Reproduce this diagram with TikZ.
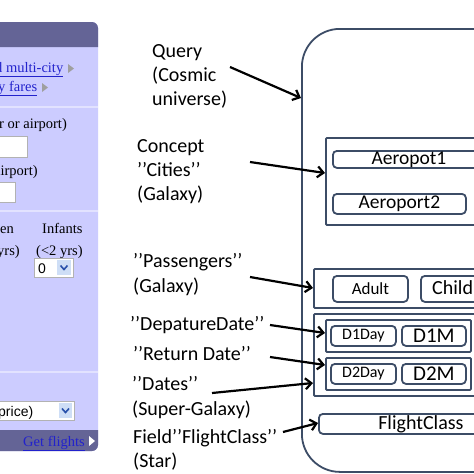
\documentclass[tikz,border=0pt]{standalone}
\usepackage{fontspec}
\setmainfont{Carlito}
\newfontfamily\seriff{Liberation Serif}
\newfontfamily\arialf{Liberation Sans}
\usetikzlibrary{arrows.meta,calc}
\definecolor{boxc}{RGB}{60,76,102}
\definecolor{lav}{RGB}{204,204,255}
\definecolor{hdr}{RGB}{100,100,150}
\definecolor{lnk}{RGB}{34,34,204}
\definecolor{sepc}{RGB}{226,226,255}
\definecolor{btnc}{RGB}{206,222,246}
\definecolor{chev}{RGB}{40,80,170}
\begin{document}
\begin{tikzpicture}[x=1pt,y=-1pt,
  box/.style={draw=boxc,line width=1.8pt,inner sep=0pt,anchor=north west,rounded corners=1pt},
  rbox/.style={box,rounded corners=4pt},
  lbl/.style={anchor=base west,inner sep=0pt,font=\fontsize{20}{24}\selectfont},
  arr/.style={line width=2.2pt,-{Straight Barb[length=6pt,width=11pt]}},
  ptxt/.style={anchor=base west,inner sep=0pt,font=\seriff\fontsize{14.5}{17}\selectfont},
  atxt/.style={anchor=base west,inner sep=0pt,font=\arialf\fontsize{14}{17}\selectfont},
  sepl/.style={draw=sepc,line width=1.5pt},
  inbox/.style={draw=gray!60,fill=white,line width=0.8pt,inner sep=0pt,anchor=north west}
]
\useasboundingbox (0,0) rectangle (474,474);
\clip (0,0) rectangle (474,474);
\fill[white] (0,0) rectangle (474,474);

% ---------- left panel (web form) ----------
\fill[lav,rounded corners=6pt] (-10,22) rectangle (98,451);
\fill[hdr] (-10,47) -- (-10,22) [rounded corners=6pt] -- (98,22) [sharp corners] -- (98,47) -- cycle;
\fill[hdr] (-10,430) -- (98,430) [rounded corners=6pt] -- (98,451) [sharp corners] -- (-10,451) -- cycle;
\draw[sepl] (-10,107) -- (98,107);
\draw[sepl] (-10,211) -- (98,211);
\draw[sepl] (-10,372) -- (98,372);

\node[ptxt,text=lnk] (lk1) at (-5,72) {\underline{d multi-city}};
\fill[gray!75] (68,64) -- (74,68.5) -- (68,73) -- cycle;
\node[ptxt,text=lnk] (lk2) at (-2,91) {\underline{y fares}};
\fill[gray!75] (42,83) -- (48,87.5) -- (42,92) -- cycle;

\node[ptxt] (f1) at (-1,128) {r or airport)};
\node[inbox,minimum width=29pt,minimum height=21pt] (in1) at (-2,136) {};
\node[ptxt] (f2) at (-6,175) {airport)};
\node[inbox,minimum width=17pt,minimum height=20pt] (in2) at (-2,182) {};

\node[ptxt] (f3) at (0,233) {en};
\node[ptxt] (f4) at (42,233) {Infants};
\node[ptxt] (f5) at (-3,255) {yrs)};
\node[ptxt] (f6) at (36,255) {(<2 yrs)};

\node[inbox,minimum width=39pt,minimum height=19pt] (sel1) at (34,258) {};
\node[atxt] (sel1t) at (38,273) {0};
\fill[btnc] (57,260) rectangle (71,275);
\draw[chev,line width=1.6pt] (60.5,265.5) -- (64,269.5) -- (67.5,265.5);

\node[inbox,minimum width=76pt,minimum height=19pt] (sel2) at (-2,401) {};
\node[atxt] (sel2t) at (-2,416) {price)};
\fill[btnc] (59,403) rectangle (72,418);
\draw[chev,line width=1.6pt] (62,408.5) -- (65.5,412.5) -- (69,408.5);

\node[ptxt,text=lnk] (gf) at (23,446) {\underline{Get flights}};
\fill[white] (89,436) -- (95,441) -- (89,446) -- cycle;

% ---------- right diagram ----------
\node[draw=boxc,line width=1.8pt,inner sep=0pt,anchor=north west,rounded corners=38pt,
      minimum width=239pt,minimum height=443pt] (query) at (301,28) {};

\node[box,minimum width=175pt,minimum height=87pt] (concept) at (325,137) {};
\node[rbox,minimum width=152pt,minimum height=17pt,font=\fontsize{19.5}{19.5}\selectfont] (a1) at (332,150) {Aeropot1};
\node[rbox,minimum width=133pt,minimum height=20pt,font=\fontsize{19.5}{19.5}\selectfont] (a2) at (332,193) {Aeroport2};

\node[box,minimum width=187pt,minimum height=39pt] (pass) at (313,268) {};
\node[rbox,minimum width=75pt,minimum height=26pt,font=\fontsize{17}{17}\selectfont] (adult) at (332,275) {Adult};
\node[rbox,minimum width=80pt,minimum height=26pt] (child) at (420,275) {};
\node[anchor=west,inner sep=0pt,font=\fontsize{20}{20}\selectfont] (childt) at (432,288) {Child};

\node[box,minimum width=187pt,minimum height=82pt] (dates) at (313,313) {};
\node[box,minimum width=145pt,minimum height=32pt] (d1) at (325,319) {};
\node[rbox,minimum width=65pt,minimum height=20pt,font=\fontsize{16}{16}\selectfont] (d1day) at (330,325) {D1Day};
\node[rbox,minimum width=64pt,minimum height=20pt,font=\fontsize{21}{21}\selectfont] (d1m) at (401,325) {D1M};
\node[box,minimum width=145pt,minimum height=32pt] (d2) at (325,357) {};
\node[rbox,minimum width=65pt,minimum height=20pt,font=\fontsize{16}{16}\selectfont] (d2day) at (330,363) {D2Day};
\node[rbox,minimum width=64pt,minimum height=20pt,font=\fontsize{21}{21}\selectfont] (d2m) at (401,363) {D2M};

\node[rbox,minimum width=204pt,minimum height=20pt,font=\fontsize{20}{20}\selectfont] (fc) at (318,413) {FlightClass};

% ---------- labels ----------
\node[lbl] (q1) at (152,57) {Query};
\node[lbl] (q2) at (152,81) {(Cosmic};
\node[lbl] (q3) at (152,105) {universe)};

\node[lbl] (c1) at (137,152) {Concept};
\node[lbl] (c2) at (137,176) {’’Cities’’};
\node[lbl] (c3) at (137,200) {(Galaxy)};

\node[lbl] (p1) at (133,267) {’’Passengers’’};
\node[lbl] (p2) at (133,292) {(Galaxy)};

\node[lbl] (dd) at (130,330) {’’DepatureDate’’};
\node[lbl] (rd) at (133,360) {’’Return Date’’};
\node[lbl] (ds1) at (132,390) {’’Dates’’};
\node[lbl] (ds2) at (132,415) {(Super-Galaxy)};
\node[lbl] (fl1) at (133,443) {Field’’FlightClass’’};
\node[lbl] (fl2) at (133,467) {(Star)};

% ---------- arrows ----------
\coordinate (sq) at (230,67);
\coordinate (sc) at (250,162);
\coordinate (sp) at (250,277);
\coordinate (sd) at (270,325);
\coordinate (sr) at (270,357);
\coordinate (ss) at (212,393);
\coordinate (sf) at (283,432);

\draw[arr] (sq) -- ($(query.north west)+(0,70)$);
\draw[arr] (sc) -- ($(concept.north west)+(0,36)$);
\draw[arr] (sp) -- ($(pass.north west)+(0,20)$);
\draw[arr] (sd) -- ($(d1.north west)+(0,14)$);
\draw[arr] (sr) -- ($(d2.north west)+(0,8)$);
\draw[arr] (ss) -- ($(dates.north west)+(0,70)$);
\draw[arr] (sf) -- ($(fc.north west)+(0,10)$);
\end{tikzpicture}
\end{document}
